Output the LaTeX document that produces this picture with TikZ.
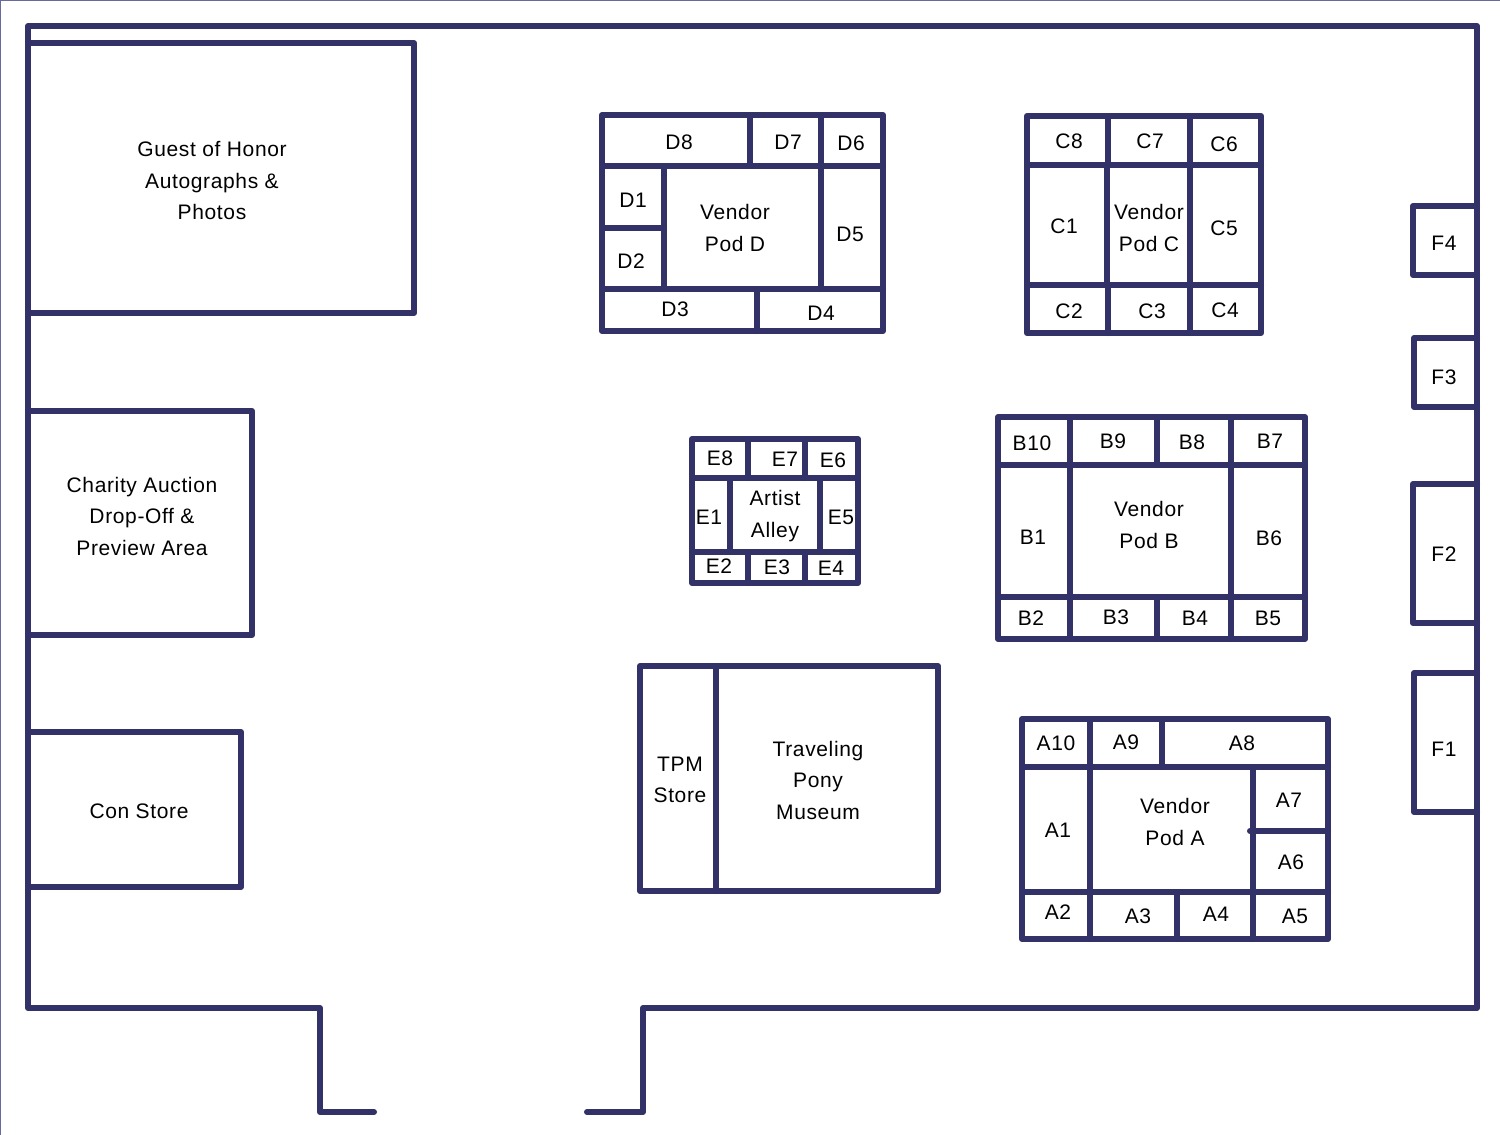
\documentclass[tikz,border=0pt]{standalone}
\usepackage{fontspec}
\newfontfamily\labfont[LetterSpace=3]{Liberation Sans}
\definecolor{wallc}{HTML}{323268}
\definecolor{framec}{HTML}{6A6A9A}
\tikzset{
  wall/.style={draw=wallc,line width=3pt,line join=round,line cap=round},
  frameline/.style={draw=framec,line width=1pt},
  lab/.style={font=\labfont\fontsize{10.5}{15.75}\selectfont,text=black,align=center,inner sep=0pt}
}
\begin{document}
\begin{tikzpicture}[x=0.5pt,y=-0.5pt]
\useasboundingbox (0,0) rectangle (1500,1135);
\fill[white] (0,0) rectangle (1500,1135);
\draw[frameline] (0,1135) -- (0,0) -- (1500,0);
% outer walls
\draw[wall] (374,1112) -- (320,1112) -- (320,1008) -- (28,1008) -- (28,26) -- (1477,26) -- (1477,1008) -- (643,1008) -- (643,1112) -- (587,1112);
% left rooms
\draw[wall] (28,43) -- (414,43) -- (414,313) -- (28,313);
\draw[wall] (28,411) -- (252,411) -- (252,635) -- (28,635);
\draw[wall] (28,732) -- (241,732) -- (241,887) -- (28,887);
% pod D
\draw[wall] (602,115) rectangle (883,331);
\draw[wall] (602,166) -- (883,166) (602,289) -- (883,289) (750,115) -- (750,166) (821,115) -- (821,289) (664,166) -- (664,289) (602,228) -- (664,228) (757,289) -- (757,331);
% pod C
\draw[wall] (1027,116) rectangle (1261,333);
\draw[wall] (1027,165) -- (1261,165) (1027,285) -- (1261,285) (1108,116) -- (1108,165) -- (1107,165) -- (1107,285) -- (1108,285) -- (1108,333) (1190,116) -- (1190,333);
% pod E
\draw[wall] (692,439) rectangle (858,583);
\draw[wall] (692,478) -- (858,478) (692,552) -- (858,552) (748,439) -- (748,478) (805,439) -- (805,478) (748,552) -- (748,583) (805,552) -- (805,583) (730,478) -- (730,552) (820,478) -- (820,552);
% pod B
\draw[wall] (998,417) rectangle (1305,639);
\draw[wall] (998,465) -- (1305,465) (998,597) -- (1305,597) (1070,417) -- (1070,639) (1231,417) -- (1231,639) (1157,417) -- (1157,465) (1157,597) -- (1157,639);
% pod A
\draw[wall] (1022,719) rectangle (1328,939);
\draw[wall] (1022,767) -- (1328,767) (1022,892) -- (1328,892) (1090,719) -- (1090,939) (1162,719) -- (1162,767) (1177,892) -- (1177,939) (1253,767) -- (1253,939) (1250,831) -- (1328,831);
% TPM
\draw[wall] (640,666) rectangle (938,891);
\draw[wall] (716,666) -- (716,891);
% F booths
\draw[wall] (1477,206) -- (1413,206) -- (1413,275) -- (1477,275);
\draw[wall] (1477,338) -- (1414,338) -- (1414,407) -- (1477,407);
\draw[wall] (1477,484) -- (1413,484) -- (1413,623) -- (1477,623);
\draw[wall] (1477,673) -- (1414,673) -- (1414,812) -- (1477,812);
% room labels
\node[lab] (guest) at (212,181) {Guest of Honor\\Autographs \&\\Photos};
\node[lab] (charity) at (142,516) {Charity Auction\\Drop-Off \&\\Preview Area};
\node[lab] (constore) at (139,811) {Con Store};
\node[lab] (tpm) at (680,780) {TPM\\Store};
\node[lab] (museum) at (818,780) {Traveling\\Pony\\Museum};
\node[lab] (podD) at (735,228) {Vendor\\Pod D};
\node[lab] (podC) at (1149,228) {Vendor\\Pod C};
\node[lab] (podB) at (1149,525) {Vendor\\Pod B};
\node[lab] (podA) at (1175,822) {Vendor\\Pod A};
\node[lab] (alley) at (775,516) {Artist\\Alley};
% D
\node[lab] (D8) at (679,142) {D8};
\node[lab] (D7) at (788,142) {D7};
\node[lab] (D6) at (851,143) {D6};
\node[lab] (D1) at (633,200) {D1};
\node[lab] (D2) at (631,261) {D2};
\node[lab] (D3) at (675,309) {D3};
\node[lab] (D4) at (821,313) {D4};
\node[lab] (D5) at (850,234) {D5};
% C
\node[lab] (C8) at (1069,141) {C8};
\node[lab] (C7) at (1150,141) {C7};
\node[lab] (C6) at (1224,144) {C6};
\node[lab] (C1) at (1064,226) {C1};
\node[lab] (C5) at (1224,228) {C5};
\node[lab] (C2) at (1069,311) {C2};
\node[lab] (C3) at (1152,311) {C3};
\node[lab] (C4) at (1225,310) {C4};
% B
\node[lab] (B10) at (1032,443) {B10};
\node[lab] (B9) at (1113,441) {B9};
\node[lab] (B8) at (1192,442) {B8};
\node[lab] (B7) at (1270,441) {B7};
\node[lab] (B1) at (1033,537) {B1};
\node[lab] (B6) at (1269,538) {B6};
\node[lab] (B2) at (1031,618) {B2};
\node[lab] (B3) at (1116,617) {B3};
\node[lab] (B4) at (1195,618) {B4};
\node[lab] (B5) at (1268,618) {B5};
% A
\node[lab] (A10) at (1056,743) {A10};
\node[lab] (A9) at (1126,742) {A9};
\node[lab] (A8) at (1242,743) {A8};
\node[lab] (A1) at (1058,830) {A1};
\node[lab] (A7) at (1289,800) {A7};
\node[lab] (A6) at (1291,862) {A6};
\node[lab] (A2) at (1058,912) {A2};
\node[lab] (A3) at (1138,916) {A3};
\node[lab] (A4) at (1216,914) {A4};
\node[lab] (A5) at (1295,916) {A5};
% E
\node[lab] (E8) at (720,458) {E8};
\node[lab] (E7) at (785,459) {E7};
\node[lab] (E6) at (833,460) {E6};
\node[lab] (E1) at (709,517) {E1};
\node[lab] (E5) at (841,517) {E5};
\node[lab] (E2) at (719,566) {E2};
\node[lab] (E3) at (777,567) {E3};
\node[lab] (E4) at (831,568) {E4};
% F
\node[lab] (F4) at (1444,243) {F4};
\node[lab] (F3) at (1444,377) {F3};
\node[lab] (F2) at (1444,554) {F2};
\node[lab] (F1) at (1444,749) {F1};
\end{tikzpicture}
\end{document}
